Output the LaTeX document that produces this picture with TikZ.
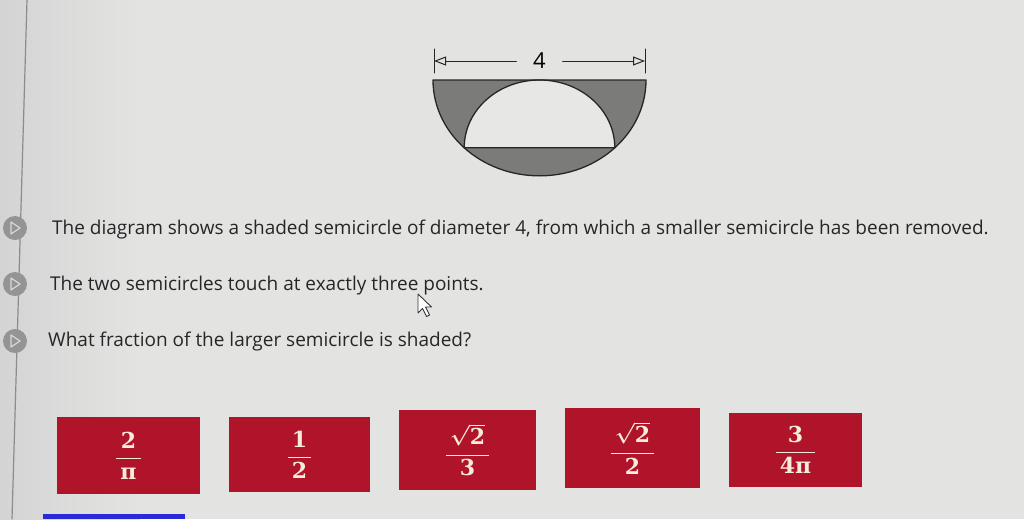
\documentclass[tikz,border=0pt]{standalone}
\usepackage{amsmath}
\usepackage{fontspec}
\setmainfont{Open Sans}
\newfontfamily\fracfont{DejaVu Serif}
\usetikzlibrary{arrows.meta}
\definecolor{screen}{HTML}{E3E4E2}
\definecolor{shadegray}{HTML}{7B7B79}
\definecolor{hole}{HTML}{E7E7E5}
\definecolor{answerred}{HTML}{B0142B}
\definecolor{cream}{HTML}{F6ECDC}
\definecolor{barblue}{HTML}{2A2AD6}
\newcommand{\fracans}[2]{$\displaystyle\frac{\,#1\,}{\,#2\,}$}
\newcommand{\bt}[1]{\text{\fracfont\bfseries #1}}

\begin{document}
\begin{tikzpicture}[x=1pt,y=-1pt,line cap=round,line join=round,
    question/.style={anchor=base west,inner sep=0pt,text=black!85,font=\fontsize{19}{22}\selectfont},
    answer/.style={fill=answerred,text=cream,inner sep=0pt,font=\fontsize{22}{26}\selectfont\boldmath},
    playbtn/.style={fill=black!42,draw=none},
    outline/.style={draw=black!85,line width=1.3pt}]
      \useasboundingbox (0,0) rectangle (1024,519);
      \fill[screen] (0,0) rectangle (1024,519);
      \shade[left color=black!17,right color=screen] (0,0) rectangle (140,519);

      % Add left margin line
      \draw[black!45,line width=1.2pt] (27,0) -- (12,519);

      % Add shaded semicircle
      \begin{scope}[shift={(539.5,80)},yscale=0.9]
        \fill[shadegray] (-106.5,0) arc (180:0:106.5) -- cycle;
        \fill[hole] (-75.3,75.3) arc (180:360:75.3) -- cycle;
        \draw[outline] (-75.3,75.3) arc (180:360:75.3) -- cycle;
        \draw[outline] (-106.5,0) arc (180:0:106.5) -- cycle;
      \end{scope}

      % Add dimension line
      \node (dim) at (539.5,61) [minimum width=46pt,inner sep=0pt,font=\fontsize{22}{24}\selectfont] {4};
      \coordinate (ltick) at (434,61);
      \coordinate (rtick) at (645,61);
      \draw[black!85,line width=1pt] (434,49) -- (434,73);
      \draw[black!85,line width=1pt] (645,49) -- (645,73);
      \draw[black!85,line width=1pt,-{Triangle[open,length=12pt,width=9pt]}] (dim.west) -- (ltick);
      \draw[black!85,line width=1pt,-{Triangle[open,length=12pt,width=9pt]}] (dim.east) -- (rtick);

      % Add play buttons
      \foreach \yy in {228,284,341} {
        \fill[playbtn] (15,\yy) circle (12);
        \draw[black!15,line width=1.2pt] (11,\yy-6) -- (20,\yy) -- (11,\yy+6) -- cycle;
      }

      % Add question text
      \node (lineA) at (52,234) [question] {The diagram shows a shaded semicircle of diameter 4, from which a smaller semicircle has been removed.};
      \node (lineB) at (50,290) [question] {The two semicircles touch at exactly three points.};
      \node (lineC) at (48,346) [question] {What fraction of the larger semicircle is shaded?};

      % Add cursor
      \draw[black!80,fill=white,line width=0.9pt] (418,294) -- (418,313) -- (422.5,308.5) -- (426.5,316.5) -- (429.5,315) -- (425.5,307) -- (431.5,307) -- cycle;

      % Add answer boxes
      \node (ansA) at (128.5,455.5) [answer,minimum width=143pt,minimum height=77pt] {\fracans{\bt{2}}{\bt{π}}};
      \node (ansB) at (299.5,454.5) [answer,minimum width=141pt,minimum height=75pt] {\fracans{\bt{1}}{\bt{2}}};
      \node (ansC) at (467.5,450) [answer,minimum width=137pt,minimum height=80pt] {\fracans{\sqrt{\bt{2}}}{\bt{3}}};
      \node (ansD) at (632.5,448) [answer,minimum width=135pt,minimum height=80pt] {\fracans{\sqrt{\bt{2}}}{\bt{2}}};
      \node (ansE) at (795.5,450) [answer,minimum width=133pt,minimum height=74pt] {\fracans{\bt{3}}{\bt{4π}}};

      % Add blue bar
      \fill[barblue] (43,514) rectangle (185,519);
\end{tikzpicture}
\end{document}
